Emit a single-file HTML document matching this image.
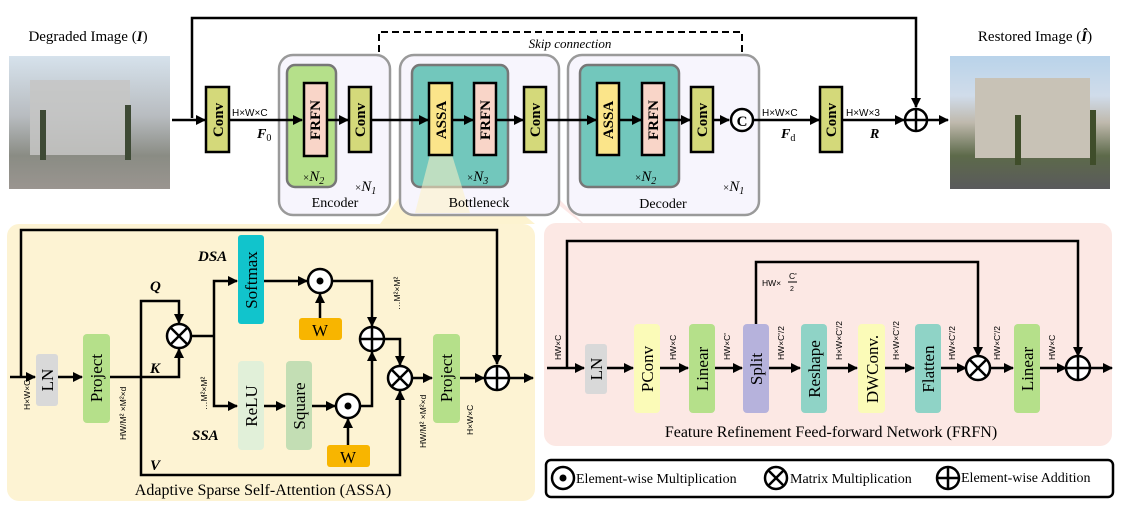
<!DOCTYPE html>
<html><head><meta charset="utf-8"><style>
html,body{margin:0;padding:0;background:#fff;}
svg{display:block;font-family:"Liberation Serif",serif;}
.s{font-family:"Liberation Sans",sans-serif;}
</style></head><body>
<svg width="1126" height="505" viewBox="0 0 1126 505" xmlns="http://www.w3.org/2000/svg">
<defs>
<marker id="a" viewBox="0 0 10 10" refX="9" refY="5" markerWidth="4" markerHeight="4" orient="auto"><path d="M0,0 L10,5 L0,10 z" fill="#000"/></marker>
<linearGradient id="sky1" x1="0" y1="0" x2="0" y2="1"><stop offset="0" stop-color="#d6e2ec"/><stop offset="0.45" stop-color="#b8bcc0"/><stop offset="0.75" stop-color="#8a8c84"/><stop offset="1" stop-color="#9a9590"/></linearGradient>
<linearGradient id="sky2" x1="0" y1="0" x2="0" y2="1"><stop offset="0" stop-color="#b9d3ea"/><stop offset="0.3" stop-color="#d0dcea"/><stop offset="0.5" stop-color="#bfb9ad"/><stop offset="0.75" stop-color="#5d6a4a"/><stop offset="1" stop-color="#5a5a5c"/></linearGradient>
</defs>

<text x="88" y="41" font-size="15" text-anchor="middle">Degraded Image (<tspan font-style="italic" font-weight="bold">I</tspan>)</text>
<rect x="9" y="56" width="161" height="133" fill="url(#sky1)"/>
<rect x="30" y="80" width="100" height="75" fill="#c6c6c4" opacity="0.85"/>
<rect x="40" y="110" width="6" height="50" fill="#3e4a35"/><rect x="125" y="105" width="6" height="55" fill="#3e4a35"/>
<text x="1035" y="41" font-size="15" text-anchor="middle">Restored Image (<tspan font-style="italic" font-weight="bold">Î</tspan>)</text>
<rect x="950" y="56" width="160" height="133" fill="url(#sky2)"/>
<rect x="975" y="78" width="115" height="80" fill="#c8c2b6"/>
<rect x="1015" y="115" width="6" height="50" fill="#3f4d2a"/><rect x="1090" y="110" width="6" height="55" fill="#3f4d2a"/>

<polygon points="430,155 452,155 535,224 380,224" fill="#fdf0c4" opacity="0.8"/>
<polygon points="474,155 496,155 590,230 560,200" fill="#fbd9d6" opacity="0.6"/>

<polyline points="192,118 192,18 916,18 916,107" fill="none" stroke="#000" stroke-width="2.5" marker-end="url(#a)"/>
<polyline points="379,118 379,32 742,32 742,106" fill="none" stroke="#000" stroke-width="2" stroke-dasharray="7,4" marker-end="url(#a)"/>
<text x="570" y="48" font-size="13" font-style="italic" text-anchor="middle">Skip connection</text>

<rect x="279" y="55" width="111" height="160" rx="14" fill="#f7f5fd" stroke="#9a9a9a" stroke-width="2.5"/>
<rect x="287" y="65" width="49" height="122" rx="8" fill="#b5e08a" stroke="#777" stroke-width="2.5"/>
<rect x="400" y="55" width="159" height="160" rx="14" fill="#f7f5fd" stroke="#9a9a9a" stroke-width="2.5"/>
<rect x="412" y="65" width="96" height="122" rx="8" fill="#72c7bc" stroke="#777" stroke-width="2.5"/>
<rect x="568" y="55" width="191" height="160" rx="14" fill="#f7f5fd" stroke="#9a9a9a" stroke-width="2.5"/>
<rect x="580" y="65" width="99" height="122" rx="8" fill="#72c7bc" stroke="#777" stroke-width="2.5"/>
<polygon points="430,155 452,155 470,213 415,213" fill="#fdf0c4" opacity="0.55"/>

<g stroke="#000" stroke-width="2.5" fill="none" marker-end="url(#a)">
<line x1="172" y1="120" x2="205" y2="120"/>
<line x1="229" y1="120" x2="302" y2="120"/>
<line x1="327" y1="120" x2="348" y2="120"/>
<line x1="371" y1="120" x2="428" y2="120"/>
<line x1="452" y1="120" x2="473" y2="120"/>
<line x1="496" y1="120" x2="523" y2="120"/>
<line x1="546" y1="120" x2="596" y2="120"/>
<line x1="619" y1="120" x2="641" y2="120"/>
<line x1="664" y1="120" x2="690" y2="120"/>
<line x1="713" y1="120" x2="729" y2="120"/>
<line x1="754" y1="120" x2="819" y2="120"/>
<line x1="842" y1="120" x2="904" y2="120"/>
<line x1="928" y1="120" x2="948" y2="120"/>
</g>

<g stroke="#000" stroke-width="2.5">
<rect x="206" y="87" width="23" height="65" fill="#d4d97a"/>
<rect x="304" y="83" width="23" height="73" fill="#f9d5c8"/>
<rect x="349" y="87" width="22" height="65" fill="#d4d97a"/>
<rect x="429" y="83" width="23" height="72" fill="#fbe58a"/>
<rect x="474" y="83" width="22" height="72" fill="#f9d5c8"/>
<rect x="524" y="87" width="22" height="65" fill="#d4d97a"/>
<rect x="597" y="83" width="22" height="72" fill="#fbe58a"/>
<rect x="642" y="83" width="22" height="72" fill="#f9d5c8"/>
<rect x="691" y="87" width="22" height="65" fill="#d4d97a"/>
<rect x="820" y="87" width="22" height="65" fill="#d4d97a"/>
<circle cx="742" cy="120" r="11" fill="#fff"/>
<circle cx="916" cy="120" r="11" fill="#fff"/>
<line x1="905" y1="120" x2="927" y2="120"/><line x1="916" y1="109" x2="916" y2="131"/>
</g>
<text x="742" y="126" font-size="15" font-weight="bold" text-anchor="middle">C</text>
<g font-size="15" font-weight="bold" text-anchor="middle">
<text transform="translate(223,120) rotate(-90)">Conv</text>
<text transform="translate(320,120) rotate(-90)">FRFN</text>
<text transform="translate(365,120) rotate(-90)">Conv</text>
<text transform="translate(446,120) rotate(-90)">ASSA</text>
<text transform="translate(490,120) rotate(-90)">FRFN</text>
<text transform="translate(540,120) rotate(-90)">Conv</text>
<text transform="translate(613,120) rotate(-90)">ASSA</text>
<text transform="translate(658,120) rotate(-90)">FRFN</text>
<text transform="translate(707,120) rotate(-90)">Conv</text>
<text transform="translate(836,120) rotate(-90)">Conv</text>
</g>
<g class="s" font-size="10"><text x="232" y="116">H×W×C</text><text x="762" y="116">H×W×C</text><text x="846" y="116">H×W×3</text></g>
<g font-size="14" font-style="italic" font-weight="bold">
<text x="257" y="138">F<tspan font-size="10" font-style="normal" font-weight="normal" dy="3">0</tspan></text>
<text x="781" y="138">F<tspan font-size="10" font-style="normal" font-weight="normal" dy="3">d</tspan></text>
<text x="870" y="138">R</text>
</g>
<g font-size="15" font-style="italic">
<text x="303" y="181"><tspan font-size="11" font-style="normal">×</tspan>N<tspan font-size="10" dy="3">2</tspan></text>
<text x="355" y="191"><tspan font-size="11" font-style="normal">×</tspan>N<tspan font-size="10" dy="3">1</tspan></text>
<text x="467" y="181"><tspan font-size="11" font-style="normal">×</tspan>N<tspan font-size="10" dy="3">3</tspan></text>
<text x="635" y="181"><tspan font-size="11" font-style="normal">×</tspan>N<tspan font-size="10" dy="3">2</tspan></text>
<text x="723" y="191"><tspan font-size="11" font-style="normal">×</tspan>N<tspan font-size="10" dy="3">1</tspan></text>
</g>
<g font-size="14" text-anchor="middle"><text x="335" y="207">Encoder</text><text x="479" y="207">Bottleneck</text><text x="663" y="208">Decoder</text></g>

<rect x="7" y="224" width="528" height="277" rx="12" fill="#fdf3d3"/>
<g stroke="#000" stroke-width="2.5" fill="none">
<polyline points="21,377 21,230 497,230 497,364" marker-end="url(#a)"/>
<line x1="10" y1="377" x2="35" y2="377" marker-end="url(#a)"/>
<line x1="58" y1="377" x2="82" y2="377" marker-end="url(#a)"/>
<polyline points="110,377 179,377 179,349" marker-end="url(#a)"/>
<polyline points="141,377 141,301 179,301 179,323" marker-end="url(#a)"/>
<polyline points="141,377 141,475 400,475 400,391" marker-end="url(#a)"/>
<polyline points="191,336 214,336"/>
<polyline points="214,336 214,281 237,281" marker-end="url(#a)"/>
<polyline points="214,336 214,406 237,406" marker-end="url(#a)"/>
<line x1="264" y1="281" x2="307" y2="281" marker-end="url(#a)"/>
<line x1="320" y1="318" x2="320" y2="294" marker-end="url(#a)"/>
<polyline points="332,281 372,281 372,326" marker-end="url(#a)"/>
<line x1="264" y1="406" x2="285" y2="406" marker-end="url(#a)"/>
<line x1="312" y1="406" x2="335" y2="406" marker-end="url(#a)"/>
<line x1="348" y1="445" x2="348" y2="419" marker-end="url(#a)"/>
<polyline points="360,406 372,406 372,352" marker-end="url(#a)"/>
<polyline points="384,339 400,339 400,365" marker-end="url(#a)"/>
<line x1="412" y1="378" x2="432" y2="378" marker-end="url(#a)"/>
<line x1="460" y1="378" x2="484" y2="378" marker-end="url(#a)"/>
<line x1="509" y1="378" x2="533" y2="378" marker-end="url(#a)"/>
</g>
<rect x="36" y="354" width="22" height="52" rx="3" fill="#d9d9d9"/>
<rect x="83" y="334" width="27" height="89" rx="4" fill="#b5e08a"/>
<rect x="238" y="235" width="26" height="89" rx="3" fill="#11c4cc"/>
<rect x="238" y="361" width="26" height="89" rx="4" fill="#e1f0d9"/>
<rect x="286" y="361" width="26" height="89" rx="4" fill="#c3deb4"/>
<rect x="299" y="318" width="43" height="22" rx="3" fill="#f8b500"/>
<rect x="327" y="445" width="43" height="22" rx="3" fill="#f8b500"/>
<rect x="433" y="334" width="27" height="89" rx="4" fill="#b5e08a"/>
<g stroke="#000" stroke-width="2.5" fill="#fff">
<circle cx="179" cy="336" r="12"/><line x1="171" y1="328" x2="187" y2="344"/><line x1="187" y1="328" x2="171" y2="344"/>
<circle cx="320" cy="281" r="12"/>
<circle cx="348" cy="406" r="12"/>
<circle cx="372" cy="339" r="12"/><line x1="360" y1="339" x2="384" y2="339"/><line x1="372" y1="327" x2="372" y2="351"/>
<circle cx="400" cy="378" r="12"/><line x1="392" y1="370" x2="408" y2="386"/><line x1="408" y1="370" x2="392" y2="386"/>
<circle cx="497" cy="378" r="12"/><line x1="485" y1="378" x2="509" y2="378"/><line x1="497" y1="366" x2="497" y2="390"/>
</g>
<circle cx="320" cy="281" r="3.5"/><circle cx="348" cy="406" r="3.5"/>
<g font-size="17" text-anchor="middle">
<text transform="translate(53,380) rotate(-90)">LN</text>
<text transform="translate(102,378) rotate(-90)">Project</text>
<text transform="translate(257,280) rotate(-90)">Softmax</text>
<text transform="translate(257,406) rotate(-90)">ReLU</text>
<text transform="translate(305,406) rotate(-90)">Square</text>
<text transform="translate(452,378) rotate(-90)">Project</text>
<text x="320" y="336">W</text><text x="348" y="463">W</text>
</g>
<g font-size="15" font-style="italic" font-weight="bold">
<text x="198" y="261">DSA</text><text x="192" y="440">SSA</text>
<text x="150" y="291">Q</text><text x="150" y="373">K</text><text x="150" y="470">V</text>
</g>
<g class="s" font-size="8.5">
<text transform="translate(30,410) rotate(-90)">H×W×C</text>
<text transform="translate(126,440) rotate(-90)">HW/M² ×M²×d</text>
<text transform="translate(207,410) rotate(-90)">…M²×M²</text>
<text transform="translate(400,310) rotate(-90)">…M²×M²</text>
<text transform="translate(426,448) rotate(-90)">HW/M² ×M²×d</text>
<text transform="translate(473,435) rotate(-90)">H×W×C</text>
</g>
<text x="263" y="495" font-size="16" text-anchor="middle">Adaptive Sparse Self-Attention (ASSA)</text>

<rect x="544" y="223" width="568" height="223" rx="12" fill="#fce8e4"/>
<g stroke="#000" stroke-width="2.5" fill="none">
<polyline points="567,368 567,241 1078,241 1078,356" marker-end="url(#a)"/>
<line x1="547" y1="368" x2="584" y2="368" marker-end="url(#a)"/>
<line x1="607" y1="368" x2="633" y2="368" marker-end="url(#a)"/>
<line x1="660" y1="368" x2="688" y2="368" marker-end="url(#a)"/>
<line x1="715" y1="368" x2="742" y2="368" marker-end="url(#a)"/>
<polyline points="756,324 756,262 978,262 978,356" marker-end="url(#a)"/>
<line x1="769" y1="368" x2="800" y2="368" marker-end="url(#a)"/>
<line x1="827" y1="368" x2="857" y2="368" marker-end="url(#a)"/>
<line x1="885" y1="368" x2="914" y2="368" marker-end="url(#a)"/>
<line x1="941" y1="368" x2="966" y2="368" marker-end="url(#a)"/>
<line x1="990" y1="368" x2="1013" y2="368" marker-end="url(#a)"/>
<line x1="1040" y1="368" x2="1066" y2="368" marker-end="url(#a)"/>
<line x1="1090" y1="368" x2="1112" y2="368" marker-end="url(#a)"/>
</g>
<rect x="585" y="344" width="22" height="50" rx="3" fill="#d9d9d9"/>
<rect x="634" y="324" width="26" height="89" rx="4" fill="#fbfbb8"/>
<rect x="689" y="324" width="26" height="89" rx="4" fill="#b5e08a"/>
<rect x="743" y="324" width="26" height="89" rx="4" fill="#b6b2dc"/>
<rect x="801" y="324" width="26" height="89" rx="4" fill="#8fd3c6"/>
<rect x="858" y="324" width="27" height="89" rx="4" fill="#fbfbb8"/>
<rect x="915" y="324" width="26" height="89" rx="4" fill="#8fd3c6"/>
<rect x="1014" y="324" width="26" height="89" rx="4" fill="#b5e08a"/>
<g stroke="#000" stroke-width="2.5" fill="#fff">
<circle cx="978" cy="368" r="12"/><line x1="970" y1="360" x2="986" y2="376"/><line x1="986" y1="360" x2="970" y2="376"/>
<circle cx="1078" cy="368" r="12"/><line x1="1066" y1="368" x2="1090" y2="368"/><line x1="1078" y1="356" x2="1078" y2="380"/>
</g>
<g font-size="17" text-anchor="middle">
<text transform="translate(602,369) rotate(-90)">LN</text>
<text transform="translate(653,369) rotate(-90)">PConv</text>
<text transform="translate(708,369) rotate(-90)">Linear</text>
<text transform="translate(762,369) rotate(-90)">Split</text>
<text transform="translate(820,369) rotate(-90)">Reshape</text>
<text transform="translate(878,369) rotate(-90)">DWConv.</text>
<text transform="translate(934,369) rotate(-90)">Flatten</text>
<text transform="translate(1033,369) rotate(-90)">Linear</text>
</g>
<g class="s" font-size="8.5">
<text x="762" y="286">HW×</text><text x="789" y="279">C'</text><line x1="788" y1="282" x2="797" y2="282" stroke="#000"/><text x="790" y="291" font-size="7">2</text>
<text transform="translate(561,360) rotate(-90)">HW×C</text>
<text transform="translate(676,360) rotate(-90)">HW×C</text>
<text transform="translate(730,360) rotate(-90)">HW×C'</text>
<text transform="translate(784,360) rotate(-90)">HW×C'/2</text>
<text transform="translate(842,360) rotate(-90)">H×W×C'/2</text>
<text transform="translate(899,360) rotate(-90)">H×W×C'/2</text>
<text transform="translate(955,360) rotate(-90)">HW×C'/2</text>
<text transform="translate(1000,360) rotate(-90)">HW×C'/2</text>
<text transform="translate(1055,360) rotate(-90)">HW×C</text>
</g>
<text x="831" y="437" font-size="16" text-anchor="middle">Feature Refinement Feed-forward Network (FRFN)</text>

<rect x="546" y="460" width="567" height="37" rx="5" fill="#fff" stroke="#000" stroke-width="2.5"/>
<g stroke="#000" stroke-width="2.5" fill="#fff">
<circle cx="563" cy="478" r="11"/>
<circle cx="776" cy="478" r="11"/><line x1="768" y1="470" x2="784" y2="486"/><line x1="784" y1="470" x2="768" y2="486"/>
<circle cx="948" cy="478" r="11"/><line x1="937" y1="478" x2="959" y2="478"/><line x1="948" y1="467" x2="948" y2="489"/>
</g>
<circle cx="563" cy="478" r="3.5"/>
<g font-size="14"><text x="576" y="483">Element-wise Multiplication</text><text x="790" y="483">Matrix Multiplication</text><text x="961" y="482">Element-wise Addition</text></g>
</svg>
</body></html>
